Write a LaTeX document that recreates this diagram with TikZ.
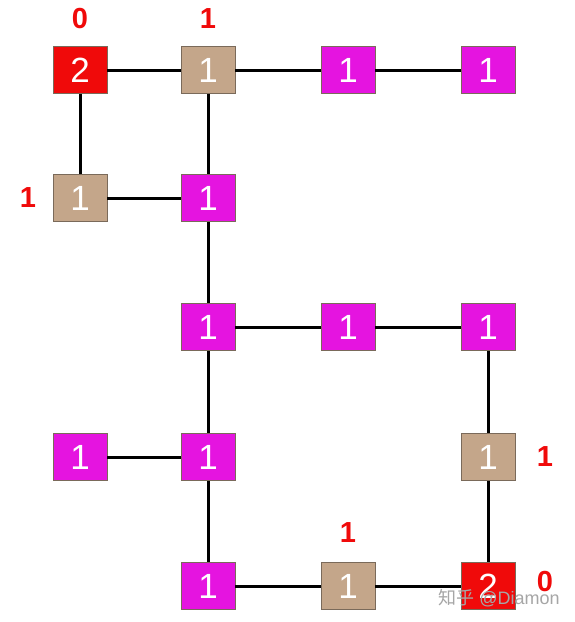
\documentclass[tikz,border=0pt]{standalone}
\usepackage{fontspec}
\setmainfont{Liberation Sans}
\newfontfamily\cjk{Noto Sans CJK SC}
\definecolor{cred}{HTML}{F00A0A}
\definecolor{ctan}{HTML}{C4A68A}
\definecolor{cmag}{HTML}{E514E0}
\definecolor{cborder}{HTML}{7A6A5A}
\begin{document}
\begin{tikzpicture}[x=1pt,y=-1pt,
  cell/.style={draw=cborder,line width=0.8pt,minimum width=54pt,minimum height=47pt,inner sep=0pt,text=white,font=\fontsize{35}{35}\selectfont},
  redcell/.style={cell,fill=cred},
  tancell/.style={cell,fill=ctan},
  magcell/.style={cell,fill=cmag},
  lab/.style={text=cred,font=\fontsize{29}{29}\selectfont\bfseries,inner sep=0pt},
  edge/.style={line width=3pt,black}]
\useasboundingbox[fill=white] (0,0) rectangle (574,622);
% nodes
\node[redcell] (a11) at (80,70) {2};
\node[tancell] (a12) at (208,70) {1};
\node[magcell] (a13) at (348,70) {1};
\node[magcell] (a14) at (488,70) {1};
\node[tancell] (a21) at (80,198) {1};
\node[magcell] (a22) at (208,198) {1};
\node[magcell] (a32) at (208,327) {1};
\node[magcell] (a33) at (348,327) {1};
\node[magcell] (a34) at (488,327) {1};
\node[magcell] (a41) at (80,457) {1};
\node[magcell] (a42) at (208,457) {1};
\node[tancell] (a44) at (488,457) {1};
\node[magcell] (a52) at (208,586) {1};
\node[tancell] (a53) at (348,586) {1};
\node[redcell] (a54) at (488,586) {2};
% edges
\draw[edge] (a11) -- (a12);
\draw[edge] (a12) -- (a13);
\draw[edge] (a13) -- (a14);
\draw[edge] (a11) -- (a21);
\draw[edge] (a12) -- (a22);
\draw[edge] (a21) -- (a22);
\draw[edge] (a22) -- (a32);
\draw[edge] (a32) -- (a33);
\draw[edge] (a33) -- (a34);
\draw[edge] (a34) -- (a44);
\draw[edge] (a32) -- (a42);
\draw[edge] (a41) -- (a42);
\draw[edge] (a42) -- (a52);
\draw[edge] (a52) -- (a53);
\draw[edge] (a53) -- (a54);
\draw[edge] (a44) -- (a54);
% labels
\node[lab] (l1) at (80,19) {0};
\node[lab] (l2) at (208,19) {1};
\node[lab] (l3) at (28,198) {1};
\node[lab] (l4) at (545,457) {1};
\node[lab] (l5) at (348,533) {1};
\node[lab] (l6) at (545,582) {0};
% watermark
\node[text=black!35,font=\fontsize{18}{18}\selectfont,inner sep=0pt] (wm) at (499,598) {{\cjk 知乎} @Diamon};
\end{tikzpicture}
\end{document}
